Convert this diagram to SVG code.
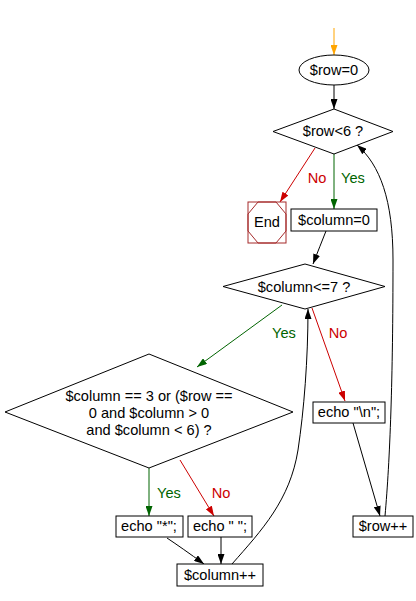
<svg xmlns="http://www.w3.org/2000/svg" width="416" height="601" viewBox="0 0 416 601">
<defs>
<style>
text{font-family:"Liberation Sans",Arial,sans-serif;font-size:14.6px;text-anchor:middle;fill:#000}
.n{fill:#fff;stroke:#000;stroke-width:1}
.e{fill:none;stroke:#000;stroke-width:1}
.r{stroke:#cc0000}
.g{stroke:#006400}
.o{stroke:#ffa500}
.lr{fill:#cc0000}
.lg{fill:#006400}
</style>
<marker id="ak" viewBox="0 0 10 7" refX="10" refY="3.5" markerWidth="10" markerHeight="7" markerUnits="userSpaceOnUse" orient="auto"><path d="M0,0L10,3.5L0,7z" fill="#000"/></marker>
<marker id="ar" viewBox="0 0 10 7" refX="10" refY="3.5" markerWidth="10" markerHeight="7" markerUnits="userSpaceOnUse" orient="auto"><path d="M0,0L10,3.5L0,7z" fill="#cc0000"/></marker>
<marker id="ag" viewBox="0 0 10 7" refX="10" refY="3.5" markerWidth="10" markerHeight="7" markerUnits="userSpaceOnUse" orient="auto"><path d="M0,0L10,3.5L0,7z" fill="#006400"/></marker>
<marker id="ao" viewBox="0 0 10 7" refX="10" refY="3.5" markerWidth="10" markerHeight="7" markerUnits="userSpaceOnUse" orient="auto"><path d="M0,0L10,3.5L0,7z" fill="#ffa500"/></marker>
</defs>
<rect width="416" height="601" fill="#fff"/>
<g id="connectors">
<path class="e o" d="M334,28L334,55" marker-end="url(#ao)"/>
<path class="e" d="M334,85L334,109" marker-end="url(#ak)"/>
<path class="e r" d="M315,148L280,202" marker-end="url(#ar)"/>
<path class="e g" d="M334,154L334,209" marker-end="url(#ag)"/>
<path class="e" d="M326,231Q320,246 313,264" marker-end="url(#ak)"/>
<path class="e g" d="M282,305L197,367" marker-end="url(#ag)"/>
<path class="e r" d="M312,308L345,401" marker-end="url(#ar)"/>
<path class="e g" d="M149,468L149,516" marker-end="url(#ag)"/>
<path class="e r" d="M180,460L214,516" marker-end="url(#ar)"/>
<path class="e" d="M167,538Q182,548 204,564" marker-end="url(#ak)"/>
<path class="e" d="M221,537L221,564" marker-end="url(#ak)"/>
<path class="e" d="M232,564C262,530 290,500 298,450C304,410 308,360 308,309" marker-end="url(#ak)"/>
<path class="e" d="M353,423L380,516" marker-end="url(#ak)"/>
<path class="e" d="M385,516C390,460 393,380 393,260C393,200 380,165 357,145" marker-end="url(#ak)"/>
<text x="317" y="183" class="lr">No</text>
<text x="353" y="183" class="lg">Yes</text>
<text x="284" y="338" class="lg">Yes</text>
<text x="338" y="338" class="lr">No</text>
<text x="169" y="498" class="lg">Yes</text>
<text x="221" y="498" class="lr">No</text>
</g>
<g id="start"><ellipse class="n" cx="334" cy="70" rx="35" ry="15"/><text x="334" y="75">$row=0</text></g>
<g id="cond_row"><polygon class="n" points="334,109 393,131.5 334,154 273,131.5"/><text x="333" y="136">$row&lt;6 ?</text></g>
<g id="end"><rect x="248" y="202" width="38" height="41" fill="#fff" stroke="#a52a2a"/><polygon points="258,202 276,202 286,214 286,231 276,243 258,243 248,231 248,214" fill="none" stroke="#a52a2a"/><text x="267" y="227">End</text></g>
<g id="col0"><rect class="n" x="291" y="209" width="86" height="22"/><text x="334" y="225">$column=0</text></g>
<g id="cond_col"><polygon class="n" points="305,264 385,286.5 305,309 223,286.5"/><text x="304" y="292">$column&lt;=7 ?</text></g>
<g id="cond_star"><polygon class="n" points="149,354 293,412 149,468 5,412"/><text x="149" y="401">$column == 3 or ($row ==</text><text x="149" y="418">0 and $column &gt; 0</text><text x="149" y="435">and $column &lt; 6) ?</text></g>
<g id="echo_star"><rect class="n" x="116" y="516" width="67" height="21"/><text x="149" y="531">echo "*";</text></g>
<g id="echo_space"><rect class="n" x="188" y="516" width="64" height="21"/><text x="220" y="531">echo " ";</text></g>
<g id="col_inc"><rect class="n" x="177" y="564" width="86" height="22"/><text x="220" y="580">$column++</text></g>
<g id="echo_nl"><rect class="n" x="313" y="402" width="72" height="21"/><text x="349" y="417">echo "\n";</text></g>
<g id="row_inc"><rect class="n" x="353" y="516" width="60" height="21"/><text x="383" y="531">$row++</text></g>
</svg>
